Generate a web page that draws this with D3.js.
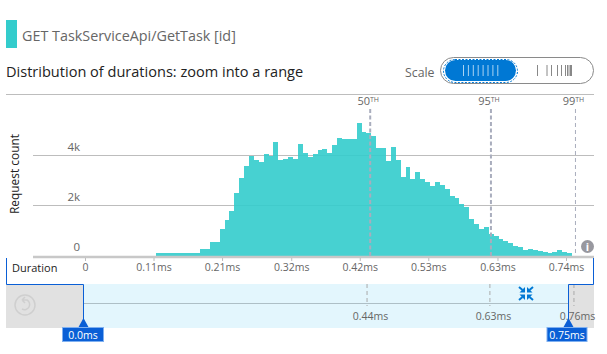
<!DOCTYPE html>
<html>
<head>
<meta charset="utf-8">
<script src="https://cdn.jsdelivr.net/npm/d3@7"></script>
<style>
  html, body { margin: 0; padding: 0; background: #fff; overflow: hidden; }
  text { font-family: "Open Sans", "Noto Sans", sans-serif; }
</style>
</head>
<body>
<div id="canvas"></div>
<script>
"use strict"

let svgWidth = 607;
let svgHeight = 354;

/* Request count per duration bucket */
let counts = [
    120, 120, 120, 120, 120, 120, 120, 120, 120, 280, 280, 560, 560,
    1080, 1440, 1800, 2520, 3120, 3600, 4000, 3840, 3760, 4040, 4000, 4520, 3840, 3880, 3960, 3880,
    4440, 4080, 3960, 4040, 4200, 4240, 4080, 4400, 4680, 4640, 4640, 4640, 5280, 4920, 4880, 4760,
    4280, 4280, 3800, 4320, 3840, 3160, 3560, 3080, 3360, 3080, 2960, 2800, 2960, 2840, 2680,
    2400, 2320, 2080, 1960, 1480, 1280, 1080, 1160, 880, 800, 680, 600, 520, 400, 360, 240, 280,
    240, 200, 160, 120, 160, 240, 160, 120
];

let yTicks = [0, 2000, 4000];
let yTickLabels = ["0", "2k", "4k"];
let xTicks = [0, 0.105, 0.21, 0.316, 0.421, 0.526, 0.632, 0.737];
let xTickLabels = ["0", "0.11ms", "0.21ms", "0.32ms", "0.42ms", "0.53ms", "0.63ms", "0.74ms"];
let percentiles = [50, 95, 99];
let percentileValues = [0.437, 0.622, 0.7515];
let brushTicks = [0.44, 0.63, 0.76];
let brushTickLabels = ["0.44ms", "0.63ms", "0.76ms"];
let brushRange = [0, 0.75];
let brushLabels = ["0.0ms", "0.75ms"];

let gray = "#666";
let gridColor = "#bdbdbd";
let blue = "#0a5fd6";

let svg = d3.select("#canvas")
    .append("svg")
    .attr("width", svgWidth)
    .attr("height", svgHeight)
    .style("display", "block");

/* Scales */
let xBand = d3.scaleBand()
    .domain(d3.range(counts.length))
    .range([156, 572]);

let xScale = d3.scaleLinear()
    .domain([0, 0.737])
    .range([85, 566]);

let yScale = d3.scaleLinear()
    .domain([0, 4000])
    .range([256, 155.5]);

let brushScale = d3.scaleLinear()
    .domain([0, 0.75])
    .range([83, 568]);

/* Header */
svg.append("rect")
    .attr("x", 6).attr("y", 20)
    .attr("width", 11).attr("height", 28)
    .attr("fill", "#33cccc");

svg.append("text")
    .attr("x", 22).attr("y", 41)
    .attr("font-size", 14.35)
    .attr("fill", gray)
    .text("GET TaskServiceApi/GetTask [id]");

svg.append("text")
    .attr("x", 6).attr("y", 77)
    .attr("font-size", 14.55)
    .attr("fill", "#222")
    .text("Distribution of durations: zoom into a range");

svg.append("line")
    .attr("x1", 6).attr("x2", 594)
    .attr("y1", 94.5).attr("y2", 94.5)
    .attr("stroke", gridColor);

/* Scale toggle */
svg.append("text")
    .attr("x", 405).attr("y", 77)
    .attr("font-size", 12.3)
    .attr("fill", gray)
    .text("Scale");

svg.append("rect")
    .attr("x", 440.5).attr("y", 57.5)
    .attr("width", 153).attr("height", 26).attr("rx", 13)
    .attr("fill", "#fff")
    .attr("stroke", "#8a8a8a");

svg.append("rect")
    .attr("x", 445).attr("y", 60)
    .attr("width", 71).attr("height", 21).attr("rx", 10.5)
    .attr("fill", "#0078d4");

svg.append("rect")
    .attr("x", 443.5).attr("y", 59.5)
    .attr("width", 74).attr("height", 23).attr("rx", 11.5)
    .attr("fill", "none")
    .attr("stroke", "#0078d4")
    .attr("stroke-dasharray", "2 1.5");

svg.selectAll("line.linearGlyph")
    .data(d3.range(8))
    .join("line")
    .attr("class", "linearGlyph")
    .attr("x1", d => 463.5 + d * 4.9)
    .attr("x2", d => 463.5 + d * 4.9)
    .attr("y1", 65).attr("y2", 76)
    .attr("stroke", "#a9d3f2");

let logGlyph = [0, 9.5, 14, 20, 24, 28, 30, 31.5, 33, 34];
svg.selectAll("line.logGlyph")
    .data(logGlyph)
    .join("line")
    .attr("class", "logGlyph")
    .attr("x1", d => 537.5 + d)
    .attr("x2", d => 537.5 + d)
    .attr("y1", 65).attr("y2", 76)
    .attr("stroke", "#888");

/* Gridlines */
svg.selectAll("line.grid")
    .data(yTicks.slice(1))
    .join("line")
    .attr("class", "grid")
    .attr("x1", 33).attr("x2", 594)
    .attr("y1", d => Math.round(yScale(d)) - 0.5)
    .attr("y2", d => Math.round(yScale(d)) - 0.5)
    .attr("stroke", gridColor);

/* Bars */
svg.selectAll("rect.bar")
    .data(counts)
    .join("rect")
    .attr("class", "bar")
    .attr("x", (d, i) => xBand(i))
    .attr("y", d => yScale(d))
    .attr("width", xBand.bandwidth())
    .attr("height", d => yScale(0) - yScale(d))
    .attr("fill", "#33cccc")
    .attr("opacity", 0.9)
    .attr("shape-rendering", "crispEdges");

/* Y axis */
let yAxis = d3.axisLeft(yScale)
    .tickValues(yTicks)
    .tickSize(0)
    .tickFormat((d, i) => yTickLabels[i]);

let yGroup = svg.append("g")
    .attr("transform", "translate(83,-9)")
    .call(yAxis);
yGroup.select(".domain").remove();
yGroup.selectAll("text")
    .attr("font-family", null)
    .attr("font-size", 11.5)
    .attr("fill", gray);

svg.append("text")
    .attr("x", -174)
    .attr("y", 19)
    .attr("transform", "rotate(-90)")
    .attr("text-anchor", "middle")
    .attr("font-size", 11.9)
    .attr("fill", "#222")
    .text("Request count");

/* X axis */
svg.append("line")
    .attr("x1", 33).attr("x2", 594)
    .attr("y1", 257).attr("y2", 257)
    .attr("stroke", "#c8c8c8")
    .attr("stroke-width", 2.5);

let xAxis = d3.axisBottom(xScale)
    .tickValues(xTicks)
    .tickSize(3)
    .tickPadding(3)
    .tickFormat((d, i) => xTickLabels[i]);

let xGroup = svg.append("g")
    .attr("transform", "translate(0,258)")
    .call(xAxis);
xGroup.select(".domain").remove();
xGroup.selectAll("line").attr("stroke", gridColor);
xGroup.selectAll("text")
    .attr("font-family", null)
    .attr("font-size", 10.5)
    .attr("fill", gray);

/* Percentile markers */
svg.selectAll("line.pct")
    .data(percentileValues)
    .join("line")
    .attr("class", "pct")
    .attr("x1", d => xScale(d))
    .attr("x2", d => xScale(d))
    .attr("y1", 109).attr("y2", 256)
    .attr("stroke", "#a9adbd")
    .attr("stroke-width", (d, i) => i < 2 ? 2 : 1)
    .attr("stroke-dasharray", (d, i) => i < 2 ? "4 2.5" : "4 3");

let pctLabels = svg.selectAll("text.pct")
    .data(percentiles)
    .join("text")
    .attr("class", "pct")
    .attr("x", (d, i) => xScale(percentileValues[i]) - 2)
    .attr("y", 105)
    .attr("text-anchor", "middle")
    .attr("font-size", 11)
    .attr("fill", gray);
pctLabels.append("tspan").text(d => d);
pctLabels.append("tspan")
    .attr("font-size", 7)
    .attr("dy", -3)
    .text("TH");

/* Info badge */
svg.append("circle")
    .attr("cx", 587.5).attr("cy", 246.5).attr("r", 6.5)
    .attr("fill", "#98989f");
svg.append("text")
    .attr("x", 587.5).attr("y", 250.5)
    .attr("text-anchor", "middle")
    .attr("font-size", 11)
    .attr("font-weight", 700)
    .attr("fill", "#fff")
    .text("i");

/* Duration label */
svg.append("text")
    .attr("x", 12).attr("y", 272)
    .attr("font-size", 11)
    .attr("fill", "#222")
    .text("Duration");

/* Range selector */
let brushLeft = brushScale(brushRange[0]);
let brushRight = brushScale(brushRange[1]);

svg.append("rect")
    .attr("x", 6).attr("y", 284)
    .attr("width", 588).attr("height", 44)
    .attr("fill", "#e1e1e1");

svg.append("rect")
    .attr("x", brushLeft).attr("y", 284)
    .attr("width", brushRight - brushLeft).attr("height", 44)
    .attr("fill", "#e3f6fd");

svg.append("line")
    .attr("x1", brushLeft).attr("x2", brushRight)
    .attr("y1", 303.5).attr("y2", 303.5)
    .attr("stroke", "#aebfc6");

svg.selectAll("line.brushTick")
    .data(brushTicks)
    .join("line")
    .attr("class", "brushTick")
    .attr("x1", d => brushScale(d) - 0.5)
    .attr("x2", d => brushScale(d) - 0.5)
    .attr("y1", 284).attr("y2", 306)
    .attr("stroke", "#aaa")
    .attr("stroke-dasharray", "4 3");

svg.selectAll("text.brushTick")
    .data(brushTicks)
    .join("text")
    .attr("class", "brushTick")
    .attr("x", d => brushScale(d) + 3)
    .attr("y", 320)
    .attr("text-anchor", "middle")
    .attr("font-size", 10.5)
    .attr("fill", gray)
    .text((d, i) => brushTickLabels[i]);

/* Blue frame round the selected range */
svg.append("path")
    .attr("d", `M6.5,258V284.5H${brushLeft + 0.5}V319`)
    .attr("fill", "none")
    .attr("stroke", blue);

svg.append("path")
    .attr("d", `M593.5,258V284.5H${brushRight + 0.5}V319`)
    .attr("fill", "none")
    .attr("stroke", blue);

/* Handles and their labels */
brushRange.forEach(function (value, i) {
    let x = brushScale(value);
    svg.append("path")
        .attr("d", `M${x + 0.5},318L${x + 6},328H${x - 5}Z`)
        .attr("fill", blue);
    let boxX = i === 0 ? x - 20.5 : x - 21;
    let boxW = i === 0 ? 41 : 40;
    svg.append("rect")
        .attr("x", boxX).attr("y", 327.5)
        .attr("width", boxW).attr("height", 14)
        .attr("fill", blue)
        .attr("stroke", "#7fb0f0");
    svg.append("text")
        .attr("x", boxX + boxW / 2).attr("y", 339)
        .attr("text-anchor", "middle")
        .attr("font-size", 10.5)
        .attr("fill", "#fff")
        .text(brushLabels[i]);
});

/* Reset icon */
svg.append("circle")
    .attr("cx", 25).attr("cy", 305).attr("r", 10)
    .attr("fill", "none")
    .attr("stroke", "#cfcfcf")
    .attr("stroke-width", 1.5);
svg.append("path")
    .attr("d", "M22,300H27A5,5 0 1 1 22,309M22,300L25,297M22,300L25,303")
    .attr("fill", "none")
    .attr("stroke", "#cfcfcf")
    .attr("stroke-width", 1.5);

/* Zoom-to-range icon: four arrows pointing at the middle */
[[-1, -1], [1, -1], [-1, 1], [1, 1]].forEach(function (corner) {
    let sx = corner[0];
    let sy = corner[1];
    let g = svg.append("g")
        .attr("transform", `translate(526,293.5) scale(${sx},${sy})`);
    g.append("path")
        .attr("d", "M1,1V6.5L6.5,1Z")
        .attr("fill", "#0078d4");
    g.append("line")
        .attr("x1", 3.5).attr("y1", 3.5)
        .attr("x2", 7).attr("y2", 6.5)
        .attr("stroke", "#0078d4")
        .attr("stroke-width", 2);
});
</script>
</body>
</html>
